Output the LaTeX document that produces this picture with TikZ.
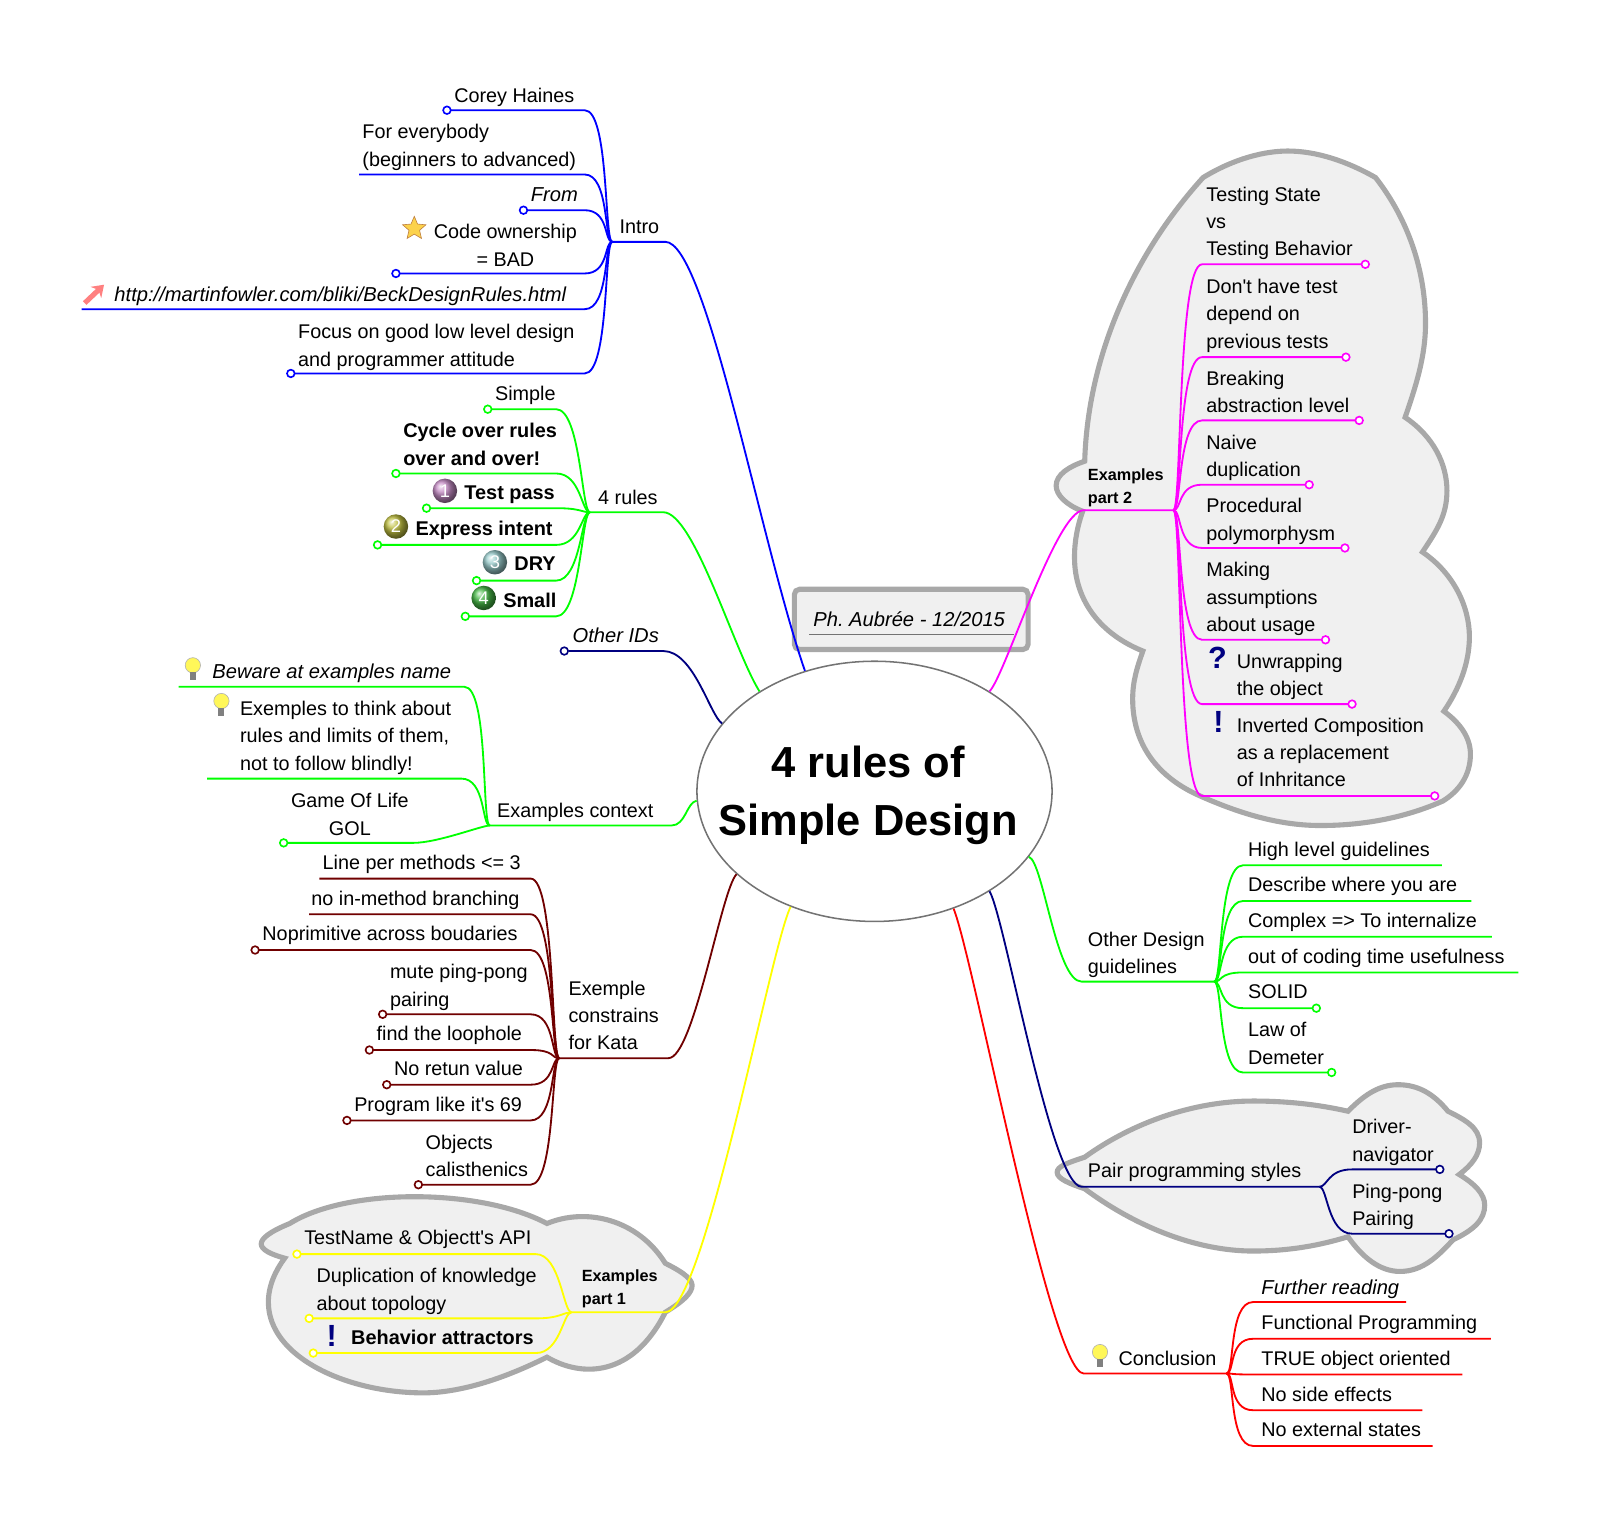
\documentclass[tikz,border=0pt]{standalone}
\usepackage{fontspec}
\setmainfont{Liberation Sans}
\usetikzlibrary{shapes.geometric}
\usetikzlibrary{arrows.meta}

\definecolor{cloudfill}{HTML}{F0F0F0}
\definecolor{cloudline}{HTML}{A8A8A8}
\definecolor{darkred}{HTML}{700000}
\definecolor{navyline}{HTML}{000080}
\definecolor{blueline}{HTML}{0000FF}
\definecolor{greenline}{HTML}{00FF00}
\definecolor{yellowline}{HTML}{FFFF00}
\definecolor{pinkline}{HTML}{FF00FF}
\definecolor{redline}{HTML}{FF0000}

\tikzset{
  leaf/.style={inner sep=0pt,anchor=west,align=left,text depth=0pt,font=\fontsize{19.4}{26.7}\selectfont},
  leafc/.style={leaf,align=center},
  leafi/.style={leaf,font=\fontsize{19.75}{26.7}\selectfont\itshape},
  leafb/.style={leaf,font=\fontsize{19.5}{26.7}\selectfont\bfseries},
  small/.style={leaf,font=\fontsize{15.9}{22.5}\selectfont\bfseries},
  cloud/.style={draw=cloudline,fill=cloudfill,line width=5pt,line join=miter},
  twig/.style={line width=1.8pt},
  twigl/.style={twig,out=180,in=0,out distance=8pt,in distance=24pt},
  twigr/.style={twig,out=0,in=180,out distance=8pt,in distance=24pt},
  dot/.style={circle,draw,fill=white,line width=1.6pt,inner sep=0pt,minimum size=7.5pt},
  ball/.style={circle,inner sep=0pt,minimum size=24pt,text=white,font=\fontsize{18}{18}\selectfont},
  bulb/.style={ellipse,draw=black!30,fill=yellow!65!white,line width=.6pt,inner sep=0pt,minimum width=15pt,minimum height=15pt},
  bang/.style={inner sep=0pt,text=blue!50!black,font=\fontsize{30}{30}\selectfont\bfseries}
}
\newcommand{\bulbicon}[2]{
  \node[bulb] (#1) at (#2) {};
  \fill[gray] (#1.south) ++(-3,-1) rectangle ++(6,8);
}

\begin{document}
\frenchspacing
\begin{tikzpicture}[x=1pt,y=-1pt]
\useasboundingbox (0,0) rectangle (1568,1496.5);
% clouds
\draw[cloud] (1179,174) .. controls (1210,155) and (1240,148) .. (1262,148) .. controls (1290,148) and (1320,158) .. (1348,174)
  .. controls (1380,215) and (1397,265) .. (1397,317) .. controls (1397,350) and (1387,380) .. (1377,409)
  .. controls (1405,428) and (1418,455) .. (1418,481) .. controls (1418,505) and (1408,520) .. (1394,541)
  .. controls (1425,562) and (1440,595) .. (1440,624) .. controls (1440,650) and (1430,675) .. (1415,697)
  .. controls (1430,708) and (1441,722) .. (1441,739) .. controls (1441,760) and (1430,775) .. (1414,785)
  .. controls (1380,800) and (1340,809) .. (1294,809) .. controls (1250,809) and (1210,795) .. (1176,780)
  .. controls (1135,762) and (1110,730) .. (1110,685) .. controls (1110,668) and (1114,655) .. (1120,638)
  .. controls (1080,622) and (1053,590) .. (1053,546) .. controls (1053,530) and (1056,515) .. (1061,501)
  .. controls (1045,495) and (1035,485) .. (1035,476) .. controls (1035,465) and (1048,457) .. (1063,452)
  .. controls (1066,350) and (1110,250) .. (1179,174) -- cycle;
\draw[cloud] (1063,1134) .. controls (1045,1140) and (1036,1143) .. (1036,1149) .. controls (1036,1155) and (1048,1160) .. (1063,1165)
  .. controls (1110,1200) and (1170,1226) .. (1228,1226) .. controls (1265,1226) and (1295,1220) .. (1321,1212)
  .. controls (1335,1232) and (1352,1246) .. (1372,1246) .. controls (1395,1246) and (1410,1230) .. (1424,1215)
  .. controls (1445,1205) and (1455,1195) .. (1455,1181) .. controls (1455,1170) and (1445,1160) .. (1430,1151)
  .. controls (1442,1142) and (1450,1132) .. (1450,1120) .. controls (1450,1105) and (1435,1097) .. (1419,1089)
  .. controls (1405,1072) and (1390,1063) .. (1370,1063) .. controls (1350,1063) and (1335,1075) .. (1321,1089)
  .. controls (1290,1082) and (1260,1079) .. (1228,1079) .. controls (1170,1079) and (1110,1100) .. (1063,1134) -- cycle;
\draw[cloud] (279,1233) .. controls (250,1225) and (245,1215) .. (284,1199) .. controls (340,1164) and (470,1164) .. (536,1199)
  .. controls (575,1183) and (625,1195) .. (652,1238) .. controls (672,1248) and (680,1255) .. (678,1262)
  .. controls (676,1270) and (665,1278) .. (652,1286) .. controls (620,1350) and (570,1350) .. (536,1330)
  .. controls (480,1358) and (440,1365) .. (415,1365) .. controls (340,1365) and (263,1330) .. (263,1276)
  .. controls (263,1260) and (270,1245) .. (279,1233) -- cycle;
% root
\node[ellipse,draw=black!55,line width=1.5pt,minimum width=348pt,minimum height=255pt,inner sep=0pt] (root) at (857,775.5)
  {\makebox[0pt]{\hspace*{-12pt}\raisebox{-6.5pt}[0pt][0pt]{\parbox[c]{320pt}{\centering\fontsize{42.6}{57}\selectfont\bfseries 4 rules of\\Simple Design}}}};
\node[rounded corners=5pt,draw=cloudline,fill=cloudfill,line width=5pt,minimum width=229pt,minimum height=59pt,inner sep=0pt,font=\fontsize{19.75}{24}\selectfont\itshape] (sign) at (893,607) {\hspace*{-4pt}Ph. Aubrée - 12/2015};
\coordinate (signa) at (793,622);
\coordinate (signb) at (994,622);
\draw[black!55,line width=1.5pt] (signa) -- (signb);

% Intro
\begin{scope}[color=blueline]
\node[leaf,text=black] (intro) at (607,222) {Intro};
\coordinate (hubintro) at (600,237);
\coordinate (armintro) at (652,237);
\draw[twig] (root.120) .. controls +(-44,-127) and +(40,0) .. (armintro) -- (hubintro);
\foreach \nm/\yy/\xx in {corey/108/438,everybody/171/352,from/206/513,code/268/388,url/303/80,focus/366/285}{
  \coordinate (b\nm) at (573,\yy);
  \coordinate (e\nm) at (\xx,\yy);
  \draw[twigl] (hubintro) to (b\nm) -- (e\nm);
}
\node[dot] at (ecorey) {};
\node[dot] at (efrom) {};
\node[dot] at (ecode) {};
\node[dot] at (efocus) {};
\end{scope}
\node[leaf] (corey) at (445,93) {Corey Haines};
\node[leaf] (everybody) at (355,142.5) {For everybody\\(beginners to advanced)};
\node[leafi] (from) at (520,190.5) {From};
\node[leafc] (code) at (425,240.5) {Code ownership\\= BAD};
\node[star,star points=5,star point ratio=2.2,draw=orange!50!gray,fill=yellow!55!orange!70!white,inner sep=0pt,minimum size=24pt,line width=.6pt] (starcode) at (406,224) {};
\node[leafi] (url) at (112,288) {http://martinfowler.com/bliki/BeckDesignRules.html};
\coordinate (urla) at (83,297);
\coordinate (urlb) at (102,279);
\draw[-{Stealth[length=11pt,width=15pt]},line width=5pt,red!50!white] (urla) -- (urlb);
\node[leaf] (focus) at (292,338.5) {Focus on good low level design\\and programmer attitude};

% 4 rules
\begin{scope}[color=greenline]
\node[leaf,text=black] (rules) at (586,487) {4 rules};
\coordinate (hubrules) at (578,502);
\coordinate (armrules) at (650,502);
\draw[twig] (root.139) .. controls +(-25,-40) and +(30,0) .. (armrules) -- (hubrules);
\foreach \nm/\yy/\xx in {simple/401/478,cycle/464/388,test/498/418,express/534/370,dry/569/467,small/604/456}{
  \coordinate (b\nm) at (545,\yy);
  \coordinate (e\nm) at (\xx,\yy);
  \draw[twigl] (hubrules) to (b\nm) -- (e\nm);
  \node[dot] at (e\nm) {};
}
\end{scope}
\node[leaf] (simple) at (485,385) {Simple};
\node[leafb] (cycle) at (395,435.5) {Cycle over rules\\over and over!};
\node[leafb] (test) at (455,483) {Test pass};
\node[leafb] (express) at (407,518) {Express intent};
\node[leafb] (dry) at (504,552) {DRY};
\node[leafb] (small) at (493,588) {Small};
\node[ball,ball color=violet!45!white] (one) at (436,481) {1};
\node[ball,ball color=olive!50!white] (two) at (388,516) {2};
\node[ball,ball color=teal!40!white] (three) at (485,551) {3};
\node[ball,ball color=green!45!gray] (four) at (474,586) {4};

% Other IDs
\node[leafi] (ids) at (561,622) {Other IDs};
\coordinate (bids) at (650,638);
\node[dot,draw=navyline] (eids) at (553,638) {};
\draw[twig,navyline] (root.156) .. controls +(-12,-8) and +(30,0) .. (bids) -- (eids);

% Examples context
\begin{scope}[color=greenline]
\node[leaf,text=black] (context) at (487,794) {Examples context};
\coordinate (hubctx) at (480,809);
\coordinate (armctx) at (658,809);
\draw[twig] (root.183) .. controls +(-10,2) and +(14,0) .. (armctx) -- (hubctx);
\coordinate (bbeware) at (455,673);
\coordinate (ebeware) at (175,673);
\coordinate (bexem) at (452,763);
\coordinate (eexem) at (203,763);
\coordinate (bgame) at (405,826);
\coordinate (egame) at (278,826);
\draw[twigl] (hubctx) to (bbeware) -- (ebeware);
\draw[twigl] (hubctx) to (bexem) -- (eexem);
\draw[twigl] (hubctx) to (bgame) -- (egame);
\node[dot] at (egame) {};
\end{scope}
\node[leafi] (beware) at (208,658) {Beware at examples name};
\node[leaf] (exem) at (235,721) {Exemples to think about\\rules and limits of them,\\not to follow blindly!};
\node[leafc] (game) at (285,798) {Game Of Life\\GOL};
\bulbicon{bulba}{189,652}
\bulbicon{bulbb}{217,687}
\bulbicon{bulbc}{1078,1325}

% Exemple constrains
\begin{scope}[color=darkred]
\node[leaf,text=black] (kata) at (557,995) {Exemple\\constrains\\for Kata};
\coordinate (hubkata) at (548,1037);
\coordinate (armkata) at (655,1037);
\draw[twig] (root.211.6) .. controls +(-15,15) and +(25,0) .. (armkata) -- (hubkata);
\foreach \nm/\yy/\xx in {lines/861/313,nomethod/896/303,noprim/931/250,ping/994/375,loop/1029/362,noret/1063/379,progr/1098/340,objs/1161/410}{
  \coordinate (b\nm) at (520,\yy);
  \coordinate (e\nm) at (\xx,\yy);
  \draw[twigl] (hubkata) to (b\nm) -- (e\nm);
}
\node[dot] at (enoprim) {};
\node[dot] at (eping) {};
\node[dot] at (eloop) {};
\node[dot] at (enoret) {};
\node[dot] at (eprogr) {};
\node[dot] at (eobjs) {};
\end{scope}
\node[leaf] (lines) at (316,845) {Line per methods <= 3};
\node[leaf] (nomethod) at (305,880) {no in-method branching};
\node[leaf] (noprim) at (257,915) {Noprimitive across boudaries};
\node[leaf] (ping) at (382,965.5) {mute ping-pong\\pairing};
\node[leaf] (loop) at (369,1013) {find the loophole};
\node[leaf] (noret) at (386,1047) {No retun value};
\node[leaf] (progr) at (347,1082) {Program like it\textquotesingle s 69};
\node[leaf] (objs) at (417,1132.5) {Objects\\calisthenics};

% Examples part 1
\begin{scope}[color=yellowline]
\node[small,text=black] (parta) at (570,1261) {Examples\\part 1};
\coordinate (hubparta) at (560,1286);
\coordinate (armparta) at (652,1286);
\draw[twig] (root.234) .. controls +(-20,40) and +(38,0) .. (armparta) -- (hubparta);
\foreach \nm/\yy/\xx in {api/1229/291,dup/1292/303,attr/1326/307}{
  \coordinate (b\nm) at (525,\yy);
  \coordinate (e\nm) at (\xx,\yy);
  \draw[twigl] (hubparta) to (b\nm) -- (e\nm);
  \node[dot] at (e\nm) {};
}
\end{scope}
\node[leaf] (api) at (298,1213) {TestName \& Objectt\textquotesingle s API};
\node[leaf] (dup) at (310,1263.5) {Duplication of knowledge\\about topology};
\node[leafb] (attr) at (344,1311) {Behavior attractors};
\node[bang] (banga) at (325,1309) {!};

% Examples part 2
\begin{scope}[color=pinkline]
\node[small,text=black] (partb) at (1066,476) {Examples\\part 2};
\coordinate (hubpartb) at (1150,500);
\coordinate (armpartb) at (1062,500);
\draw[twig] (root.41) .. controls +(15,-15) and +(-27,0) .. (armpartb) -- (hubpartb);
\foreach \nm/\yy/\xx in {state/259/1338,dep/350/1319,brk/412/1332,naive/475/1283,poly/537/1318,making/627/1299,unwrap/690/1325,invert/780/1406}{
  \coordinate (b\nm) at (1178,\yy);
  \coordinate (e\nm) at (\xx,\yy);
  \draw[twigr] (hubpartb) to (b\nm) -- (e\nm);
  \node[dot] at (e\nm) {};
}
\end{scope}
\node[leaf] (state) at (1182,217) {Testing State\\vs\\Testing Behavior};
\node[leaf] (dep) at (1182,307.5) {Don\textquotesingle t have test\\depend on\\previous tests};
\node[leaf] (brk) at (1182,384) {Breaking\\abstraction level};
\node[leaf] (naive) at (1182,447) {Naive\\duplication};
\node[leaf] (poly) at (1182,509) {Procedural\\polymorphysm};
\node[leaf] (making) at (1182,585) {Making\\assumptions\\about usage};
\node[leaf] (unwrap) at (1212,661.5) {Unwrapping\\the object};
\node[leaf] (invert) at (1212,737.5) {Inverted Composition\\as a replacement\\of Inhritance};
\node[bang] (quest) at (1193,645) {?};
\node[bang] (bangb) at (1194,708) {!};

% Other Design guidelines
\begin{scope}[color=greenline]
\node[leaf,text=black] (design) at (1066,934) {Other Design\\guidelines};
\coordinate (hubdesign) at (1190,962);
\coordinate (armdesign) at (1060,962);
\draw[twig] (root.337) .. controls +(14,4) and +(-25,0) .. (armdesign) -- (hubdesign);
\foreach \nm/\yy/\xx in {high/848/1413,where/883/1442,cmplx/918/1462,coding/953/1488,solid/988/1290,demeter/1051/1305}{
  \coordinate (b\nm) at (1218,\yy);
  \coordinate (e\nm) at (\xx,\yy);
  \draw[twigr] (hubdesign) to (b\nm) -- (e\nm);
}
\node[dot] at (esolid) {};
\node[dot] at (edemeter) {};
\end{scope}
\node[leaf] (high) at (1223,832) {High level guidelines};
\node[leaf] (where) at (1223,867) {Describe where you are};
\node[leaf] (cmplx) at (1223,902) {Complex => To internalize};
\node[leaf] (coding) at (1223,937) {out of coding time usefulness};
\node[leaf] (solid) at (1223,972) {SOLID};
\node[leaf] (demeter) at (1223,1022.5) {Law of\\Demeter};

% Pair programming
\begin{scope}[color=navyline]
\node[leaf,text=black] (pair) at (1066,1147) {Pair programming styles};
\coordinate (hubpair) at (1293,1163);
\coordinate (armpair) at (1060,1163);
\draw[twig] (root.319) .. controls +(15,25) and +(-30,0) .. (armpair) -- (hubpair);
\foreach \nm/\yy/\xx in {driver/1146/1411,pong/1209/1420}{
  \coordinate (b\nm) at (1325,\yy);
  \coordinate (e\nm) at (\xx,\yy);
  \draw[twigr] (hubpair) to (b\nm) -- (e\nm);
  \node[dot] at (e\nm) {};
}
\end{scope}
\node[leaf] (driver) at (1325,1117.5) {Driver-\\navigator};
\node[leaf] (pong) at (1325,1181) {Ping-pong\\Pairing};

% Conclusion
\begin{scope}[color=redline]
\node[leaf,text=black] (concl) at (1096,1331) {Conclusion};
\coordinate (hubconcl) at (1202,1346);
\coordinate (armconcl) at (1062,1346);
\draw[twig] (root.304) .. controls +(20,50) and +(-32,0) .. (armconcl) -- (hubconcl);
\foreach \nm/\yy/\xx in {further/1276/1378,func/1312/1461,truth/1347/1433,side/1382/1394,extern/1417/1404}{
  \coordinate (b\nm) at (1228,\yy);
  \coordinate (e\nm) at (\xx,\yy);
  \draw[twigr] (hubconcl) to (b\nm) -- (e\nm);
}
\end{scope}
\node[leafi] (further) at (1236,1261) {Further reading};
\node[leaf] (func) at (1236,1296) {Functional Programming};
\node[leaf] (truth) at (1236,1331) {TRUE object oriented};
\node[leaf] (side) at (1236,1366) {No side effects};
\node[leaf] (extern) at (1236,1401) {No external states};
\end{tikzpicture}
\end{document}
